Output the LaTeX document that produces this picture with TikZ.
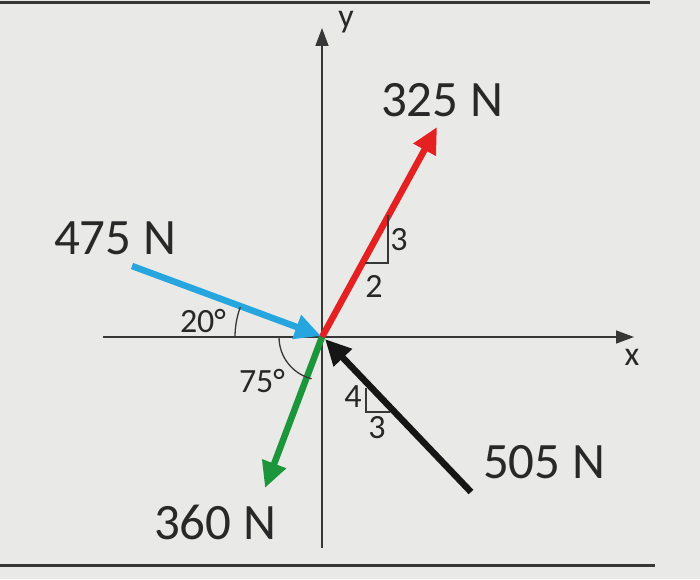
\documentclass[tikz,border=0pt]{standalone}
\usepackage{fontspec}
\setmainfont{Carlito}
\usetikzlibrary{arrows.meta}
\definecolor{bg}{RGB}{233,233,231}
\definecolor{axisc}{RGB}{55,55,55}
\definecolor{fred}{RGB}{228,32,32}
\definecolor{fblue}{RGB}{38,165,222}
\definecolor{fgreen}{RGB}{28,150,58}
\definecolor{fblack}{RGB}{22,22,22}
\definecolor{txt}{RGB}{40,40,40}
\tikzset{
  force/.style={line width=6.5pt,-{Triangle[length=26pt,width=24pt]}},
  axisline/.style={line width=1.4pt,draw=axisc,-{Triangle[length=18pt,width=13pt]}},
  biglabel/.style={text=txt,font=\fontsize{51}{51}\selectfont,inner sep=0pt},
  smalllabel/.style={text=txt,font=\fontsize{34}{34}\selectfont,inner sep=0pt},
  thinline/.style={line width=1.3pt,draw=axisc},
  border/.style={line width=3pt,draw=axisc}
}
\begin{document}
\begin{tikzpicture}[x=1pt,y=1pt]
\fill[bg] (0,0) rectangle (700,579);
\useasboundingbox (0,0) rectangle (700,579);
% borders
\coordinate (tl) at (0,576); \coordinate (tr) at (650,576);
\coordinate (bl) at (0,14); \coordinate (br) at (655,14);
\draw[border] (tl) -- (tr);
\draw[border] (bl) -- (br);
% axes
\coordinate (O) at (322,242);
\coordinate (xs) at (103,242); \coordinate (xe) at (634,242);
\coordinate (ys) at (322,31); \coordinate (ye) at (322,551);
\draw[axisline] (xs) -- (xe);
\draw[axisline] (ys) -- (ye);
\node[smalllabel] (ylab) at (346,557) {y};
\node[smalllabel] (xlab) at (632,222) {x};
% forces
\coordinate (redtip) at (437,452);
\coordinate (bluetail) at (132,313);
\coordinate (bluetip) at (321,243);
\coordinate (greentip) at (265,91);
\coordinate (blacktail) at (471,87);
\coordinate (blacktip) at (325,240);
\draw[force,draw=fred,fill=fred] (O) -- (redtip);
\draw[force,draw=fblue,fill=fblue] (bluetail) -- (bluetip);
\draw[force,draw=fgreen,fill=fgreen] (O) -- (greentip);
\draw[force,draw=fblack,fill=fblack] (blacktail) -- (blacktip);
% labels
\node[biglabel] (l325) at (442,479) {325 N};
\node[biglabel] (l475) at (115,341) {475 N};
\node[biglabel] (l505) at (544,117) {505 N};
\node[biglabel] (l360) at (215,57) {360 N};
% slope triangles
\coordinate (ra) at (388,364); \coordinate (rb) at (388,316); \coordinate (rc) at (365,316);
\draw[thinline] (ra) -- (rb) -- (rc);
\node[smalllabel] (r3) at (399,339) {3};
\node[smalllabel] (r2) at (374,293) {2};
\coordinate (ka) at (366,191); \coordinate (kb) at (366,167); \coordinate (kc) at (390,167);
\draw[thinline] (ka) -- (kb) -- (kc);
\node[smalllabel] (k4) at (353,182) {4};
\node[smalllabel] (k3) at (377,151) {3};
% angles
\draw[thinline] ([shift={(160:87)}]O) arc[start angle=160,end angle=180,radius=87];
\node[smalllabel] (a20) at (203,258) {20°};
\draw[thinline] ([shift={(180:43)}]O) arc[start angle=180,end angle=256,radius=43];
\node[smalllabel] (a75) at (262,198) {75°};
\end{tikzpicture}
\end{document}
